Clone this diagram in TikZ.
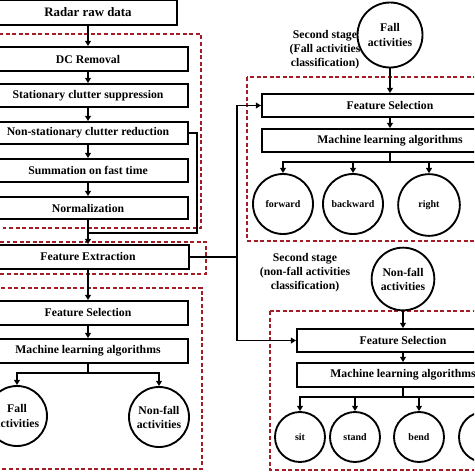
\documentclass[tikz,border=0pt]{standalone}
\usepackage{fontspec}
\setmainfont{Liberation Serif}
\usetikzlibrary{arrows.meta}
\definecolor{stagered}{RGB}{165,28,38}

\begin{document}
\begin{tikzpicture}[x=0.03cm,y=-0.03cm,
		procbox/.style={draw,line width=1.6pt,inner sep=0pt,minimum height=0.69cm,font=\bfseries\fontsize{10}{12}\selectfont},
		classnode/.style={draw,circle,line width=1.6pt,inner sep=0pt,minimum size=1.8cm,align=center,font=\bfseries\fontsize{10}{12}\selectfont},
		smallclass/.style={classnode,font=\bfseries\fontsize{8.5}{10}\selectfont},
		stagebox/.style={draw=stagered,line width=1.7pt,dash pattern=on 3.4pt off 2.2pt},
		stagetext/.style={align=center,font=\bfseries\fontsize{10}{12}\selectfont},
		flow/.style={line width=1.2pt},
		arr/.style={flow,-{Triangle[length=4.5pt,width=5pt]}}]
	\useasboundingbox (0,0) rectangle (474,474);
	\clip (0,0) rectangle (474,474);
	\fill[white] (0,0) rectangle (474,474);
	\draw[stagebox] (-20,34) rectangle (201,228);
	\draw[stagebox] (-20,242) rectangle (206,274);
	\draw[stagebox] (-20,288) rectangle (202,469);
	\draw[stagebox] (247,77) rectangle (490,241);
	\draw[stagebox] (270,311) rectangle (490,470);
	\node[procbox,minimum width=5.34cm,minimum height=0.76cm,font=\bfseries\fontsize{11}{13}\selectfont] (radar) at (88,12.5) {Radar raw data};
	\node[procbox,minimum width=6cm,minimum height=0.72cm] (dc) at (88,59) {DC Removal};
	\node[procbox,minimum width=6cm] (stat) at (88,95.5) {Stationary clutter suppression};
	\node[procbox,minimum width=6cm,minimum height=0.66cm] (nonstat) at (88,133) {Non-stationary clutter reduction};
	\node[procbox,minimum width=6cm] (summ) at (88,170.5) {Summation on fast time};
	\node[procbox,minimum width=6cm,minimum height=0.66cm] (norm) at (88,208) {Normalization};
	\node[procbox,minimum width=6.04cm,minimum height=0.72cm] (featext) at (88,257) {Feature Extraction};
	\node[procbox,minimum width=6cm,minimum height=0.72cm] (selL) at (88,313) {Feature Selection};
	\node[procbox,minimum width=6cm,minimum height=0.72cm] (mlL) at (88,351) {Machine learning algorithms};
	\node[classnode] (fallL) at (17,416) {Fall\\activities};
	\node[classnode] (nonfallL) at (159,417) {Non-fall\\activities};
	\node[classnode,minimum size=1.95cm] (fallT) at (390,35) {Fall\\activities};
	\node[stagetext] (labelF) at (325,50) {Second stage\\(Fall activities\\classification)};
	\node[procbox,minimum width=7.68cm] (selF) at (390,105.5) {Feature Selection};
	\node[procbox,minimum width=7.68cm] (mlF) at (390,140.5) {Machine learning algorithms};
	\node[smallclass] (forward) at (283,204) {forward};
	\node[smallclass] (backward) at (353,204) {backward};
	\node[smallclass,minimum size=1.85cm] (right) at (429,205) {right};
	\node[classnode,minimum size=1.88cm] (nonfallT) at (403,279) {Non-fall\\activities};
	\node[stagetext] (labelN) at (305,273) {Second stage\\(non-fall activities\\classification)};
	\node[procbox,minimum width=6.36cm] (selN) at (403,340.5) {Feature Selection};
	\node[procbox,minimum width=6.36cm,minimum height=0.72cm] (mlN) at (403,375) {Machine learning algorithms};
	\node[smallclass,minimum size=1.5cm] (sit) at (300,437) {sit};
	\node[smallclass,minimum size=1.5cm] (stand) at (355,437) {stand};
	\node[smallclass,minimum size=1.5cm] (bend) at (419,437) {bend};
	\node[smallclass,minimum size=1.5cm] (fourth) at (484,437) {};
	\coordinate (joinA) at (197,233);
	\coordinate (split) at (237,257);
	\coordinate (brL) at (88,373);
	\coordinate (brF) at (390,162);
	\coordinate (edgeF) at (490,162);
	\coordinate (brN) at (403,397);
	\draw[arr] (radar) -- (dc);
	\draw[arr] (dc) -- (stat);
	\draw[arr] (stat) -- (nonstat);
	\draw[arr] (nonstat) -- (summ);
	\draw[arr] (summ) -- (norm);
	\draw[arr] (norm) -- (featext);
	\draw[flow] (nonstat.east) -| (joinA) -- (norm.south |- joinA);
	\draw[arr] (featext) -- (selL);
	\draw[arr] (selL) -- (mlL);
	\draw[flow] (mlL) -- (brL);
	\draw[arr] (brL) -| (fallL);
	\draw[arr] (brL) -| (nonfallL);
	\draw[flow] (featext.east) -- (split);
	\draw[arr] (split) |- (selF.west);
	\draw[arr] (split) |- (selN.west);
	\draw[arr] (fallT) -- (selF);
	\draw[arr] (selF) -- (mlF);
	\draw[flow] (mlF) -- (brF);
	\draw[arr] (brF) -| (forward);
	\draw[arr] (brF) -| (backward);
	\draw[arr] (brF) -| (right);
	\draw[flow] (brF) -- (edgeF);
	\draw[arr] (nonfallT) -- (selN);
	\draw[arr] (selN) -- (mlN);
	\draw[flow] (mlN) -- (brN);
	\draw[arr] (brN) -| (sit);
	\draw[arr] (brN) -| (stand);
	\draw[arr] (brN) -| (bend);
	\draw[arr] (brN) -| (fourth);
\end{tikzpicture}
\end{document}
